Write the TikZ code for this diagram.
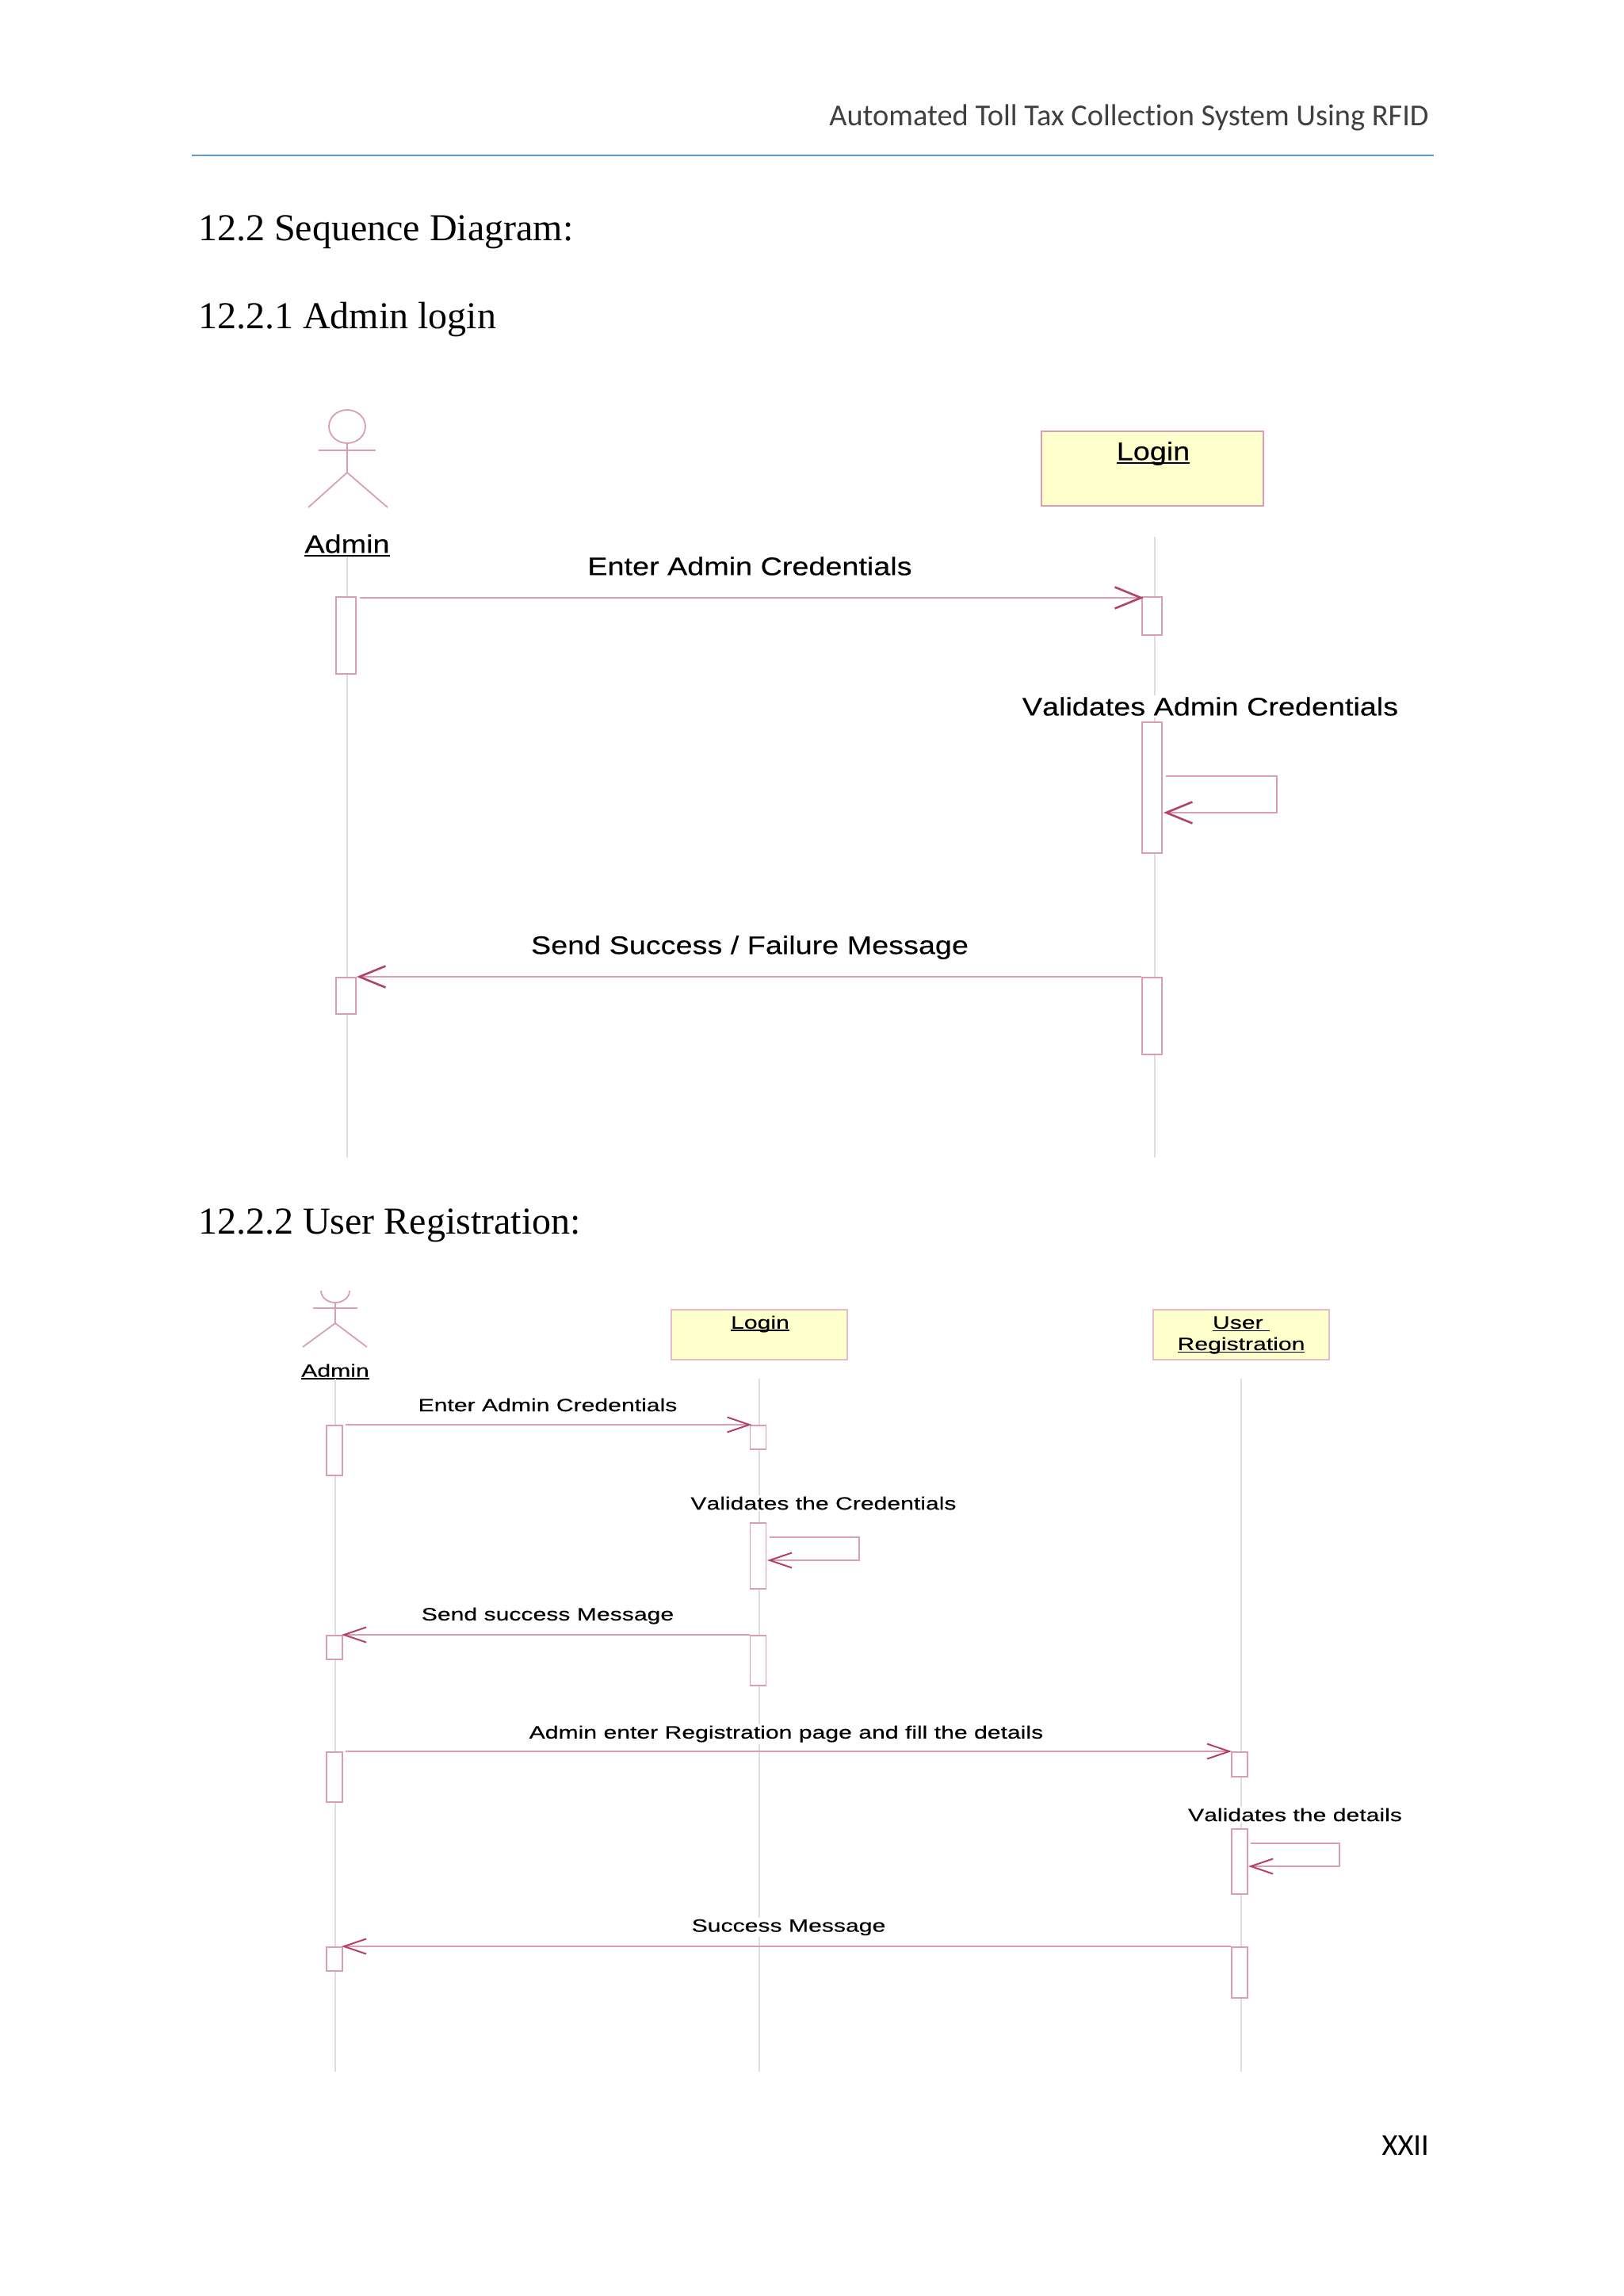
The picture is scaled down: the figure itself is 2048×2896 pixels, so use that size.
\documentclass[tikz,border=0pt]{standalone}
\usepackage{fontspec}
\usetikzlibrary{arrows.meta}
\newfontfamily\headfont[Ligatures=NoCommon]{Carlito}
\newfontfamily\titlefont{Liberation Serif}
\newfontfamily\bigseq[FakeStretch=1.18,FakeBold=0.25,Kerning=Off]{Liberation Sans}
\newfontfamily\smallseq[FakeStretch=1.34,FakeBold=0.25,Kerning=Off]{Liberation Sans}
\newcommand{\objname}[1]{\setbox0=\hbox{#1}\rlap{\rule[-.14em]{\wd0}{.07em}}\box0}
\definecolor{seqline}{HTML}{DB9DB2}
\definecolor{seqtip}{HTML}{B5406E}
\definecolor{lifegrey}{HTML}{E2DCDF}
\definecolor{boxfill}{HTML}{FFFFCC}
\definecolor{rulecol}{HTML}{5B9BD5}
\tikzset{
	title/.style={anchor=base west,inner sep=0,font=\titlefont\fontsize{48}{58}\selectfont},
	figure/.style={seqline,line width=1.8pt},
	lifeline/.style={lifegrey,line width=1.6pt},
	bigobj/.style={draw=seqline,line width=2pt,fill=boxfill,inner sep=0,minimum width=280,minimum height=94},
	smallobj/.style={draw=seqline!70,line width=2pt,fill=boxfill,inner sep=0,minimum width=222,minimum height=63},
	bigbar/.style={draw=seqline,line width=2pt,fill=white,inner sep=0,minimum width=25,anchor=north},
	smallbar/.style={draw=seqline,line width=1.8pt,fill=white,inner sep=0,minimum width=20,anchor=north},
	bigmsg/.style={fill=white,inner sep=2,font=\bigseq\fontsize{32}{38}\selectfont},
	smallmsg/.style={fill=white,inner sep=2,font=\smallseq\fontsize{22.5}{27}\selectfont},
	bigcall/.style={seqline,line width=2pt,shorten >=-3pt,-{Straight Barb[length=33pt,width=27pt,line width=2.6pt,color=seqtip]}},
	smallcall/.style={seqline,line width=2pt,shorten >=-3pt,-{Straight Barb[length=28pt,width=19pt,line width=2pt,color=seqtip]}}
}
\begin{document}
\begin{tikzpicture}[x=1pt,y=-1pt]
	\useasboundingbox (0,0) rectangle (2048,2896);
	% page head
	\node[anchor=base east,inner sep=0,text=black!75,font=\headfont\fontsize{38.4}{46}\selectfont] (pagehead) at (1803,158) {Automated Toll Tax Collection System Using RFID};
	\coordinate (ruleL) at (242,196);
	\coordinate (ruleR) at (1809,196);
	\draw[rulecol,line width=2pt] (ruleL)--(ruleR);
	\node[title] (sec) at (250,303) {12.2 Sequence Diagram:};
	\node[title] (secA) at (250,414) {12.2.1 Admin login};
	\node[title] (secB) at (250,1556) {12.2.2 User Registration:};
	\node[anchor=base east,inner sep=0,font=\headfont\fontsize{38.4}{46}\selectfont] (pageno) at (1803,2718) {XXII};

	% first diagram
	\draw[figure] (438,538) ellipse (23 and 21);
	\draw[figure] (402,568)--(474,568);
	\draw[figure] (438,559)--(438,596);
	\draw[figure] (389,640)--(438,596)--(489,640);
	\node[inner sep=0,font=\bigseq\fontsize{32}{38}\selectfont] (adminA) at (438,688) {\objname{Admin}};
	\node[bigobj] (loginA) at (1454,591) {};
	\node[inner sep=0,font=\bigseq\fontsize{32}{38}\selectfont] (loginAname) at (1455,572) {\objname{Login}};
	\coordinate (adminAtop) at (438,703);
	\coordinate (adminAend) at (438,1460);
	\coordinate (loginAtop) at (1457,677);
	\coordinate (loginAend) at (1457,1460);
	\draw[lifeline] (adminAtop)--(adminAend);
	\draw[lifeline] (loginAtop)--(loginAend);
	\node[bigbar,minimum height=97] (barA1) at (436.5,752) {};
	\node[bigbar,minimum height=48] (barA2) at (1453.5,752) {};
	\node[bigbar,minimum height=165] (barA3) at (1453.5,910) {};
	\node[bigbar,minimum height=46] (barA4) at (436.5,1232) {};
	\node[bigbar,minimum height=97] (barA5) at (1453.5,1232) {};
	\draw[bigcall] ([xshift=4pt,yshift=-2pt]barA1.north east)--([yshift=-2pt]barA2.north west);
	\coordinate (loopA1) at (1611,979);
	\coordinate (loopA2) at (1611,1025);
	\draw[bigcall] (1471,979)--(loopA1)--(loopA2)--(1471,1025);
	\draw[bigcall] (barA5.north west)--([xshift=3pt]barA4.north east);
	\node[bigmsg] (msgA1) at (946,714) {Enter Admin Credentials};
	\node[bigmsg] (msgA2) at (1527,891) {Validates Admin Credentials};
	\node[bigmsg] (msgA3) at (946,1195) {Send Success / Failure Message};

	% second diagram
	\draw[figure] (405,1628) arc[start angle=180,end angle=0,x radius=18,y radius=15];
	\draw[figure] (395,1650)--(451,1650);
	\draw[figure] (423,1643)--(423,1669);
	\draw[figure] (382,1699)--(423,1669)--(463,1699);
	\node[inner sep=0,font=\smallseq\fontsize{22.5}{27}\selectfont] (adminB) at (423,1730) {\objname{Admin}};
	\node[smallobj] (loginB) at (958,1683) {};
	\node[inner sep=0,font=\smallseq\fontsize{22.5}{27}\selectfont] (loginBname) at (959,1670) {\objname{Login}};
	\node[smallobj] (userB) at (1566,1683) {};
	\node[inner sep=0,align=center,font=\smallseq\fontsize{22.5}{27}\selectfont] (userBname) at (1566,1684) {\objname{User\ }\\\objname{Registration}};
	\foreach \x/\nm in {423/adminB,958/loginB,1566/userB}{
		\coordinate (\nm top) at (\x,1739);
		\coordinate (\nm end) at (\x,2613);
		\draw[lifeline] (\nm top)--(\nm end);
	}
	\node[smallbar,minimum height=63] (barB1) at (422,1797) {};
	\node[smallbar,minimum height=30] (barB2) at (956.5,1797) {};
	\node[smallbar,minimum height=83] (barB3) at (956.5,1920) {};
	\node[smallbar,minimum height=30] (barB4) at (422,2062) {};
	\node[smallbar,minimum height=63] (barB5) at (956.5,2062) {};
	\node[smallbar,minimum height=63] (barB6) at (422,2209) {};
	\node[smallbar,minimum height=31] (barB7) at (1564,2209) {};
	\node[smallbar,minimum height=82] (barB8) at (1564,2306) {};
	\node[smallbar,minimum height=30] (barB9) at (422,2455) {};
	\node[smallbar,minimum height=64] (barB10) at (1564,2455) {};
	\draw[smallcall] ([xshift=3pt]barB1.north east)--(barB2.north west);
	\coordinate (loopB1) at (1084,1939);
	\coordinate (loopB2) at (1084,1968);
	\draw[smallcall] (971,1939)--(loopB1)--(loopB2)--(971,1968);
	\draw[smallcall] (barB5.north west)--([xshift=1pt]barB4.north east);
	\draw[smallcall] ([xshift=3pt]barB6.north east)--([xshift=-2pt]barB7.north west);
	\coordinate (loopB3) at (1690,2325);
	\coordinate (loopB4) at (1690,2354);
	\draw[smallcall] (1578,2325)--(loopB3)--(loopB4)--(1578,2354);
	\draw[smallcall] (barB10.north west)--([xshift=1pt]barB9.north east);
	\node[smallmsg] (msgB1) at (691,1772) {Enter Admin Credentials};
	\node[smallmsg] (msgB2) at (1039,1896) {Validates the Credentials};
	\node[smallmsg] (msgB3) at (691,2038) {Send success Message};
	\node[smallmsg] (msgB4) at (992,2187) {Admin enter Registration page and fill the details};
	\node[smallmsg] (msgB5) at (1634,2289) {Validates the details};
	\node[smallmsg] (msgB6) at (995,2431) {Success Message};
\end{tikzpicture}
\end{document}
